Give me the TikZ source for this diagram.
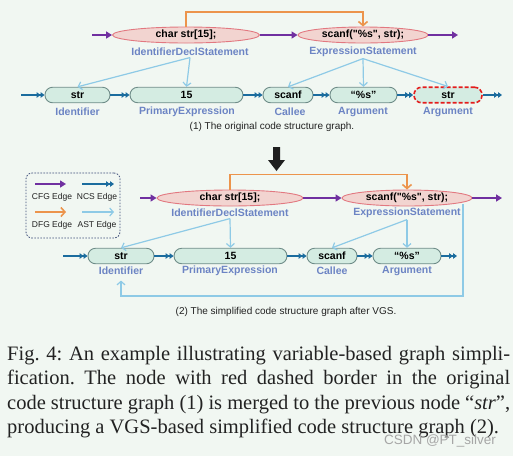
\documentclass[tikz,border=0pt]{standalone}
\usepackage{fontspec}
\setmainfont{Liberation Serif}
\newfontfamily\dsans{Liberation Sans}
\usetikzlibrary{arrows.meta,shapes.geometric,calc}
\frenchspacing
\definecolor{bg}{RGB}{241,247,242}
\definecolor{cfgc}{RGB}{112,48,160}
\definecolor{dfgc}{RGB}{236,148,76}
\definecolor{ncsc}{RGB}{27,108,158}
\definecolor{astc}{RGB}{142,202,230}
\definecolor{stmtfill}{RGB}{242,212,208}
\definecolor{stmtdraw}{RGB}{226,120,128}
\definecolor{leaffill}{RGB}{212,236,226}
\definecolor{leafdraw}{RGB}{110,140,136}
\definecolor{lblc}{RGB}{108,132,196}
\definecolor{legc}{RGB}{62,78,122}
\definecolor{redd}{RGB}{228,28,28}
\definecolor{captc}{RGB}{34,34,34}
\tikzset{
  stmt/.style={ellipse, draw=stmtdraw, fill=stmtfill, line width=0.9pt, inner sep=0pt,
    minimum height=16pt, font=\dsans\bfseries\fontsize{10.5}{12}\selectfont},
  leaf/.style={rectangle, rounded corners=7.5pt, draw=leafdraw, fill=leaffill, line width=0.9pt,
    inner sep=0pt, minimum height=15.5pt, font=\dsans\bfseries\fontsize{10.5}{12}\selectfont},
  merged/.style={draw=redd, line width=1.6pt, dash pattern=on 4pt off 2pt},
  lbl/.style={font=\dsans\bfseries\fontsize{10.5}{12}\selectfont, text=lblc, inner sep=1.5pt},
  subcap/.style={font=\dsans\fontsize{10}{12}\selectfont, text=captc, inner sep=0pt},
  legtxt/.style={font=\dsans\fontsize{8.5}{10}\selectfont, text=captc, inner sep=0pt},
  capline/.style={font=\fontsize{20.5}{24}\selectfont, text=captc, inner sep=0pt, anchor=base west},
  cfg/.style={draw=cfgc, line width=1.6pt, -{Triangle[length=6pt,width=7pt]}},
  ncs/.style={draw=ncsc, line width=1.6pt, -{Triangle[length=4pt,width=5.5pt]Triangle[length=4pt,width=5.5pt]}},
  dfg/.style={draw=dfgc, line width=1.6pt, -{Straight Barb[length=4pt,width=9pt]}},
  ast/.style={draw=astc, line width=1.2pt, -{Straight Barb[length=3.5pt,width=8pt]}},
}
\begin{document}
\begin{tikzpicture}[x=1pt,y=-1pt]
\useasboundingbox (0,0) rectangle (513,456);
\fill[bg] (0,0) rectangle (513,456);

% ---------- (1) original graph ----------
\node[stmt, minimum width=147pt] (s1a) at (186,35) {char str[15];};
\node[stmt, minimum width=130pt] (s1b) at (363,35) {scanf("\%s", str);};
\node[lbl] (l1a) at (190,52) {IdentifierDeclStatement};
\node[lbl] (l1b) at (363,52) {ExpressionStatement};

\node[leaf, minimum width=65pt] (r1a) at (77.5,95) {str};
\node[leaf, rounded corners=7.75pt, minimum width=113pt] (r1b) at (186.5,95) {15};
\node[leaf, minimum width=50pt] (r1c) at (288,95) {scanf};
\node[leaf, minimum width=67pt] (r1d) at (363.5,95) {“\%s”};
\node[leaf, merged, minimum width=68pt] (r1e) at (448,95) {str};

\node[lbl] (k1a) at (77.5,112) {Identifier};
\node[lbl] (k1b) at (187,112) {PrimaryExpression};
\node[lbl] (k1c) at (290,112) {Callee};
\node[lbl] (k1d) at (363,112) {Argument};
\node[lbl] (k1e) at (448,112) {Argument};

\node[subcap] (cap1) at (272,127) {(1) The original code structure graph.};

\coordinate (c1in) at (92,35);
\coordinate (c1out) at (458,35);
\coordinate (n1in) at (21,95);
\coordinate (n1out) at (502,95);

\draw[cfg] (c1in) -- (s1a);
\draw[cfg] (s1a) -- (s1b);
\draw[cfg] (s1b) -- (c1out);
\draw[dfg] (s1a.north) -- ++(0,-14.5) -| (s1b.north);

\draw[ast] (l1a.south) -- (r1a.north);
\draw[ast] (l1a.south) -- (r1b.north);
\draw[ast] (l1b.south) -- (r1c.north);
\draw[ast] (l1b.south) -- (r1d.north);
\draw[ast] (l1b.south) -- (r1e.north);

\draw[ncs] (n1in) -- (r1a);
\draw[ncs] (r1a) -- (r1b);
\draw[ncs] (r1b) -- (r1c);
\draw[ncs] (r1c) -- (r1d);
\draw[ncs] (r1d) -- (r1e);
\draw[ncs] (r1e) -- (n1out);

% ---------- big down arrow ----------
\fill[black!88] (273,147) -- (280,147) -- (280,160) -- (285,160) -- (276.5,171)
  -- (268,160) -- (273,160) -- cycle;

% ---------- legend ----------
\node[draw=legc, line width=0.8pt, dash pattern=on 1.6pt off 1.4pt, rounded corners=6pt,
  minimum width=94pt, minimum height=65pt, inner sep=0pt] (leg) at (73,205.5) {};
\coordinate (la1) at (35,184); \coordinate (la2) at (66,184);
\coordinate (lb1) at (82,184); \coordinate (lb2) at (114,184);
\coordinate (lc1) at (35,212); \coordinate (lc2) at (66,212);
\coordinate (ld1) at (82,212); \coordinate (ld2) at (114,212);
\draw[cfg] (la1) -- (la2);
\draw[ncs] (lb1) -- (lb2);
\draw[dfg] (lc1) -- (lc2);
\draw[ast] (ld1) -- (ld2);
\node[legtxt] (lt1) at (52,197) {CFG Edge};
\node[legtxt] (lt2) at (97,197) {NCS Edge};
\node[legtxt] (lt3) at (52,225) {DFG Edge};
\node[legtxt] (lt4) at (97,225) {AST Edge};

% ---------- (2) simplified graph ----------
\node[stmt, minimum width=146pt] (s2a) at (230,198) {char str[15];};
\node[stmt, minimum width=130pt] (s2b) at (407,198) {scanf("\%s", str);};
\node[lbl] (l2a) at (230,213) {IdentifierDeclStatement};
\node[lbl] (l2b) at (407,213) {ExpressionStatement};

\node[leaf, minimum width=66pt] (r2a) at (121,256) {str};
\node[leaf, rounded corners=7.75pt, minimum width=113pt] (r2b) at (230.5,256) {15};
\node[leaf, minimum width=50pt] (r2c) at (332,256) {scanf};
\node[leaf, minimum width=68pt] (r2d) at (407,256) {“\%s”};

\node[lbl] (k2a) at (121,271) {Identifier};
\node[lbl] (k2b) at (230,271) {PrimaryExpression};
\node[lbl] (k2c) at (332,271) {Callee};
\node[lbl] (k2d) at (407,271) {Argument};

\node[subcap] (cap2) at (286,312) {(2) The simplified code structure graph after VGS.};

\coordinate (c2in) at (140,198);
\coordinate (c2out) at (502,198);
\coordinate (n2in) at (63,256);
\coordinate (n2out) at (457,256);
\coordinate (lp) at (463,204);

\draw[cfg] (c2in) -- (s2a);
\draw[cfg] (s2a) -- (s2b);
\draw[cfg] (s2b) -- (c2out);
\draw[dfg] (s2a.north) -- ++(0,-15) -| (s2b.north);

\draw[ast] (l2a.south) -- (r2a.north);
\draw[ast] (l2a.south) -- (r2b.north);
\draw[ast] (l2b.south) -- (r2c.north);
\draw[ast] (l2b.south) -- (r2d.north);
\draw[ast, shorten >=4pt] (lp) -- ++(0,92) -| (k2a.south);

\draw[ncs] (n2in) -- (r2a);
\draw[ncs] (r2a) -- (r2b);
\draw[ncs] (r2b) -- (r2c);
\draw[ncs] (r2c) -- (r2d);
\draw[ncs] (r2d) -- (n2out);

% ---------- figure caption ----------
\node[capline] (f1) at (7,360) {\makebox[503pt][s]{Fig. 4: An example illustrating variable-based graph simpli-}};
\node[capline] (f2) at (7,384.5) {\makebox[503pt][s]{fication. The node with red dashed border in the original}};
\node[capline] (f3) at (7,409) {\makebox[503pt][s]{code structure graph (1) is merged to the previous node “\textit{str}”,}};
\node[capline] (f4) at (7,433.5) {producing a VGS-based simplified code structure graph (2).};

\node[font=\dsans\fontsize{13.5}{15}\selectfont, text=black!35, inner sep=0pt] (wm) at (440,441) {CSDN @PT\_silver};
\end{tikzpicture}
\end{document}
